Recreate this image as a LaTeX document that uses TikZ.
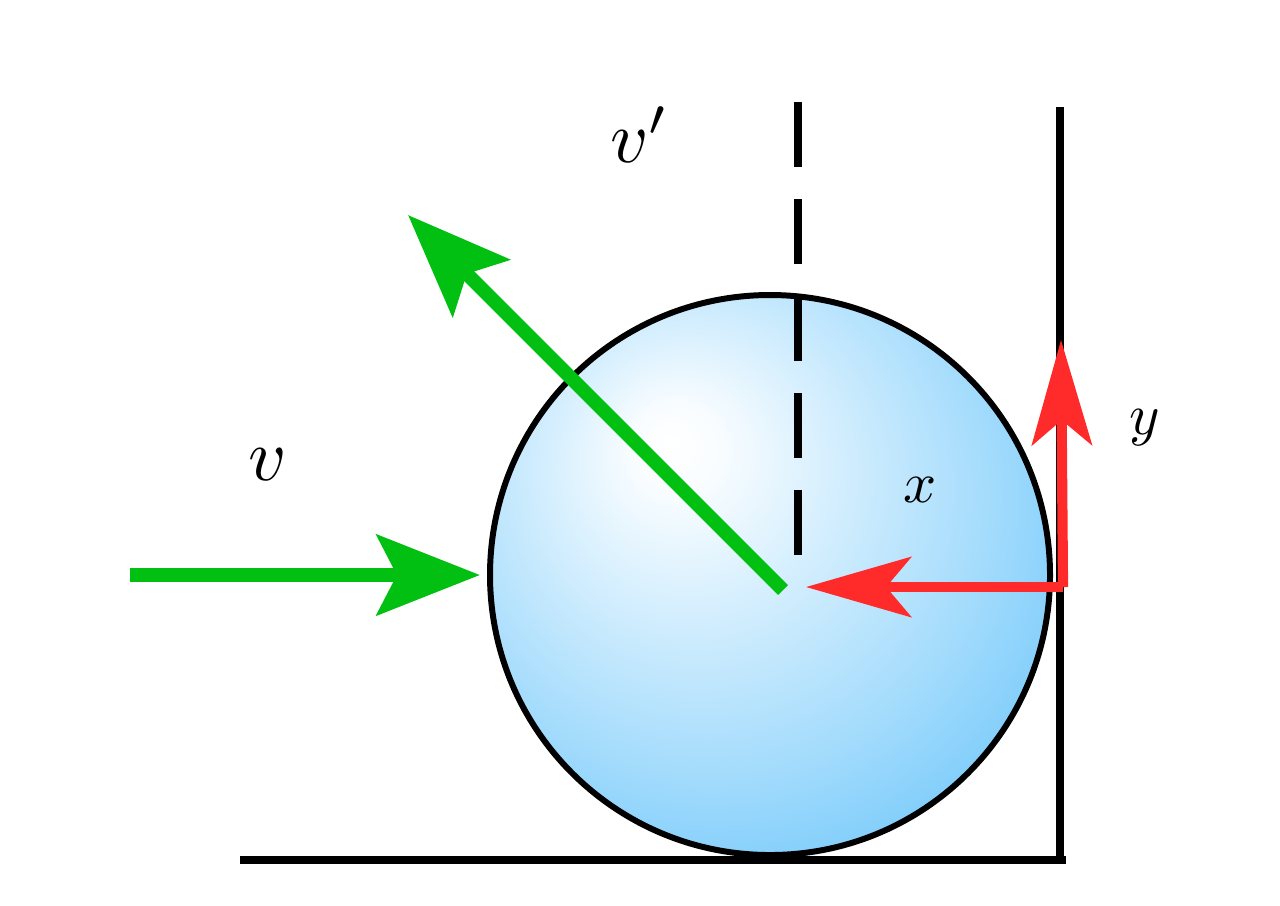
\documentclass[tikz,border=0pt]{standalone}
\usetikzlibrary{arrows.meta}
\definecolor{ballblue}{HTML}{1AA6F8}
\definecolor{vgreen}{HTML}{02C012}
\definecolor{vred}{HTML}{FF2A2A}
\pgfdeclareradialshading{ballshade}{\pgfpoint{-9bp}{12bp}}{color(0bp)=(white); color(4bp)=(white!97!ballblue); color(25bp)=(ballblue!40!white); color(48bp)=(ballblue!85!white); color(62bp)=(ballblue)}
\begin{document}
\begin{tikzpicture}[x=0.01cm,y=-0.01cm,
  gvec/.style={vgreen,line width=4pt,-{Stealth[length=1.03cm,width=0.8cm,inset=0.2cm]}},
  rvec/.style={vred,line width=2.9pt,-{Stealth[length=1.05cm,width=0.6cm,inset=0.25cm]}},
  lbl/.style={scale=2.1},
  slbl/.style={scale=1.65}]
\useasboundingbox (0,0) rectangle (1280,905);
\coordinate (c) at (770,575);
\shade[shading=ballshade] (c) circle (280);
\draw[line width=1.7pt] (c) circle (280);
\coordinate (f1) at (240,860); \coordinate (f2) at (1066,860);
\coordinate (w1) at (1060,107); \coordinate (w2) at (1060,860);
\draw[line width=2.4pt] (f1) -- (f2);
\draw[line width=2.4pt] (w1) -- (w2);
\coordinate (d1) at (798,102); \coordinate (d2) at (798,555);
\draw[line width=2.4pt,dash pattern=on 0.65cm off 0.32cm] (d1) -- (d2);
\coordinate (v0) at (130,575); \coordinate (v1) at (480,575);
\draw[gvec] (v0) -- (v1);
\coordinate (u0) at (783,590); \coordinate (u1) at (408,215);
\draw[gvec] (u0) -- (u1);
\coordinate (r0) at (1063,587); \coordinate (rx) at (806,587); \coordinate (ry) at (1061,340);
\draw[rvec] (r0) -- (rx);
\draw[rvec] (r0) -- (ry);
\node[lbl] (lv) at (268,465) {$v$};
\node[lbl] (lvp) at (640,135) {$v'$};
\node[slbl] (lx) at (920,490) {$x$};
\node[slbl] (ly) at (1145,428) {$y$};
\end{tikzpicture}
\end{document}
